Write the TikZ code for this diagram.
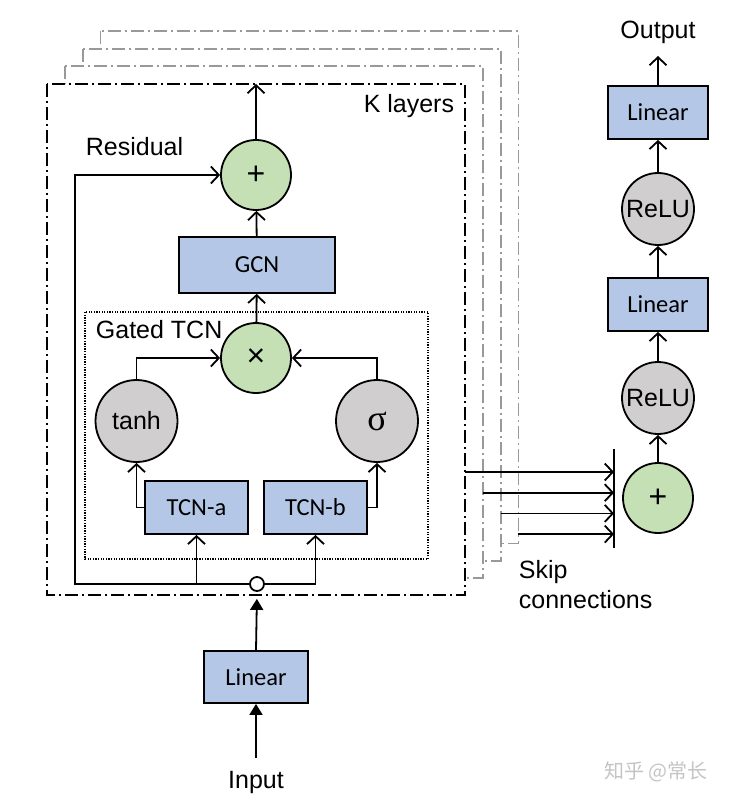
\documentclass[tikz,border=0pt]{standalone}
\usepackage{fontspec}
\setmainfont{Liberation Sans}
\newfontfamily\calib{Carlito}
\newfontfamily\tmsgreek{Liberation Serif}
\newfontfamily\cjk{Noto Sans CJK SC}
\usepackage{tikz}
\usetikzlibrary{arrows.meta}
\definecolor{BoxBlue}{HTML}{B4C7E7}
\definecolor{OpGreen}{HTML}{C5E0B4}
\definecolor{ActGray}{HTML}{D0CECE}
\definecolor{LayerGray}{HTML}{999999}
\definecolor{MarkGray}{HTML}{C4C4C4}

\begin{document}
\begin{tikzpicture}[x=1pt, y=-1pt, line width=1.8pt,
    every node/.style={font=\fontsize{25}{30}\selectfont, inner sep=0pt},
    >={Straight Barb[length=8pt,width=17pt]},
    blk/.style={draw, fill=BoxBlue, minimum width=103pt, minimum height=53pt,
      font=\calib\fontsize{24.5}{29}\selectfont},
    opc/.style={circle, draw, fill=OpGreen, minimum size=70pt,
      font=\fontsize{32}{32}\selectfont},
    actc/.style={circle, draw, fill=ActGray, minimum size=72pt},
    kbox/.style={line width=1.8pt, dash pattern=on 13pt off 4pt on 2pt off 4pt}]
  \useasboundingbox (0,0) rectangle (731,802);
  \def\dx{17.8}  % shift of each stacked layer
  % K stacked layers, back to front
  \foreach \i in {3,2,1,0} {
    \pgfmathsetmacro{\xl}{47+\i*\dx}
    \pgfmathsetmacro{\xr}{465+\i*\dx}
    \pgfmathsetmacro{\yt}{84-\i*17.6}
    \pgfmathsetmacro{\yb}{595-\i*17.2}
    \pgfmathsetmacro{\ys}{472+\i*20.7}
    \ifnum\i=0 \def\kcol{black}\else \def\kcol{LayerGray}\fi
    \draw[kbox, draw=\kcol, fill=white] (\xl,\yt) rectangle (\xr,\yb);
    \coordinate (skip\i) at (\xr,\ys);
  }
  \node[anchor=east] (klay) at (455,106) {K layers};
  % Gated TCN block
  \draw[line width=1.2pt, dash pattern=on 1.3pt off 1.3pt] (85,312) rectangle (428,559);
  \node[anchor=west] (gtcn) at (95,330) {Gated TCN};

  % one layer
  \node[opc] (plus) at (256,175) {+};
  \node[blk, minimum width=156pt, minimum height=56pt] (gcn) at (257,265) {GCN};
  \node[opc] (mult) at (256,358) {×};
  \node[actc, minimum size=82pt] (tanh) at (136.5,421) {tanh};
  \node[actc, minimum size=82pt] (sig) at (377,421) {\tmsgreek\fontsize{36}{36}\selectfont σ};
  \node[blk] (tcna) at (196.5,507.5) {TCN-a};
  \node[blk] (tcnb) at (315.5,507.5) {TCN-b};
  \node[circle, draw, fill=white, minimum size=14pt] (split) at (257,584) {};
  \node[anchor=west] (res) at (85,147) {Residual};
  \coordinate (resc) at (75,584);
  \coordinate (ktop) at (256,84);

  \draw[->] (split.west) -- (resc) |- (plus.west);
  \draw[->] (split.east) -| (tcnb.south);
  \draw[->] (tcna.south |- split) -- (tcna.south);
  \draw[->] (tcna.west) -| (tanh.south);
  \draw[->] (tcnb.east) -| (sig.south);
  \draw[->] (tanh.north) |- (mult.west);
  \draw[->] (sig.north) |- (mult.east);
  \draw[->] (mult) -- (gcn);
  \draw[->] (gcn) -- (plus);
  \draw[->] (plus) -- (ktop);

  % input
  \node[blk, minimum width=104pt, minimum height=52pt] (lin) at (256,677) {Linear};
  \node (input) at (256,782) {Input};
  \coordinate (inc) at (256,758);
  \draw[-{Triangle[length=11pt,width=13pt]}] (inc) -- (lin.south);
  \draw[-{Triangle[length=11pt,width=13pt]}, shorten >=7pt] (lin.north) -- (split.south);

  % skip connections
  \coordinate (bartop) at (614,449);
  \coordinate (barbot) at (614,548);
  \draw (bartop) -- (barbot);
  \foreach \i in {0,...,3}
    \draw[->] (skip\i) -- (skip\i -| bartop);
  \node[anchor=west, align=left] (skiptxt) at (518,585) {Skip\\connections};

  % output head
  \node[opc] (rplus) at (658,498) {+};
  \node[actc] (relu1) at (658,398) {ReLU};
  \node[blk, minimum width=100pt] (lin1) at (658,304.5) {Linear};
  \node[actc] (relu2) at (658,209) {ReLU};
  \node[blk, minimum width=100pt] (lin2) at (658,112.5) {Linear};
  \node (out) at (658,32) {Output};
  \coordinate (outc) at (658,56);
  \draw[->] (rplus) -- (relu1);
  \draw[->] (relu1) -- (lin1);
  \draw[->] (lin1) -- (relu2);
  \draw[->] (relu2) -- (lin2);
  \draw[->] (lin2) -- (outc);

  \node[text=MarkGray, font=\cjk\fontsize{20}{24}\selectfont] (mark) at (656,772) {知乎 @常长};
\end{tikzpicture}
\end{document}
